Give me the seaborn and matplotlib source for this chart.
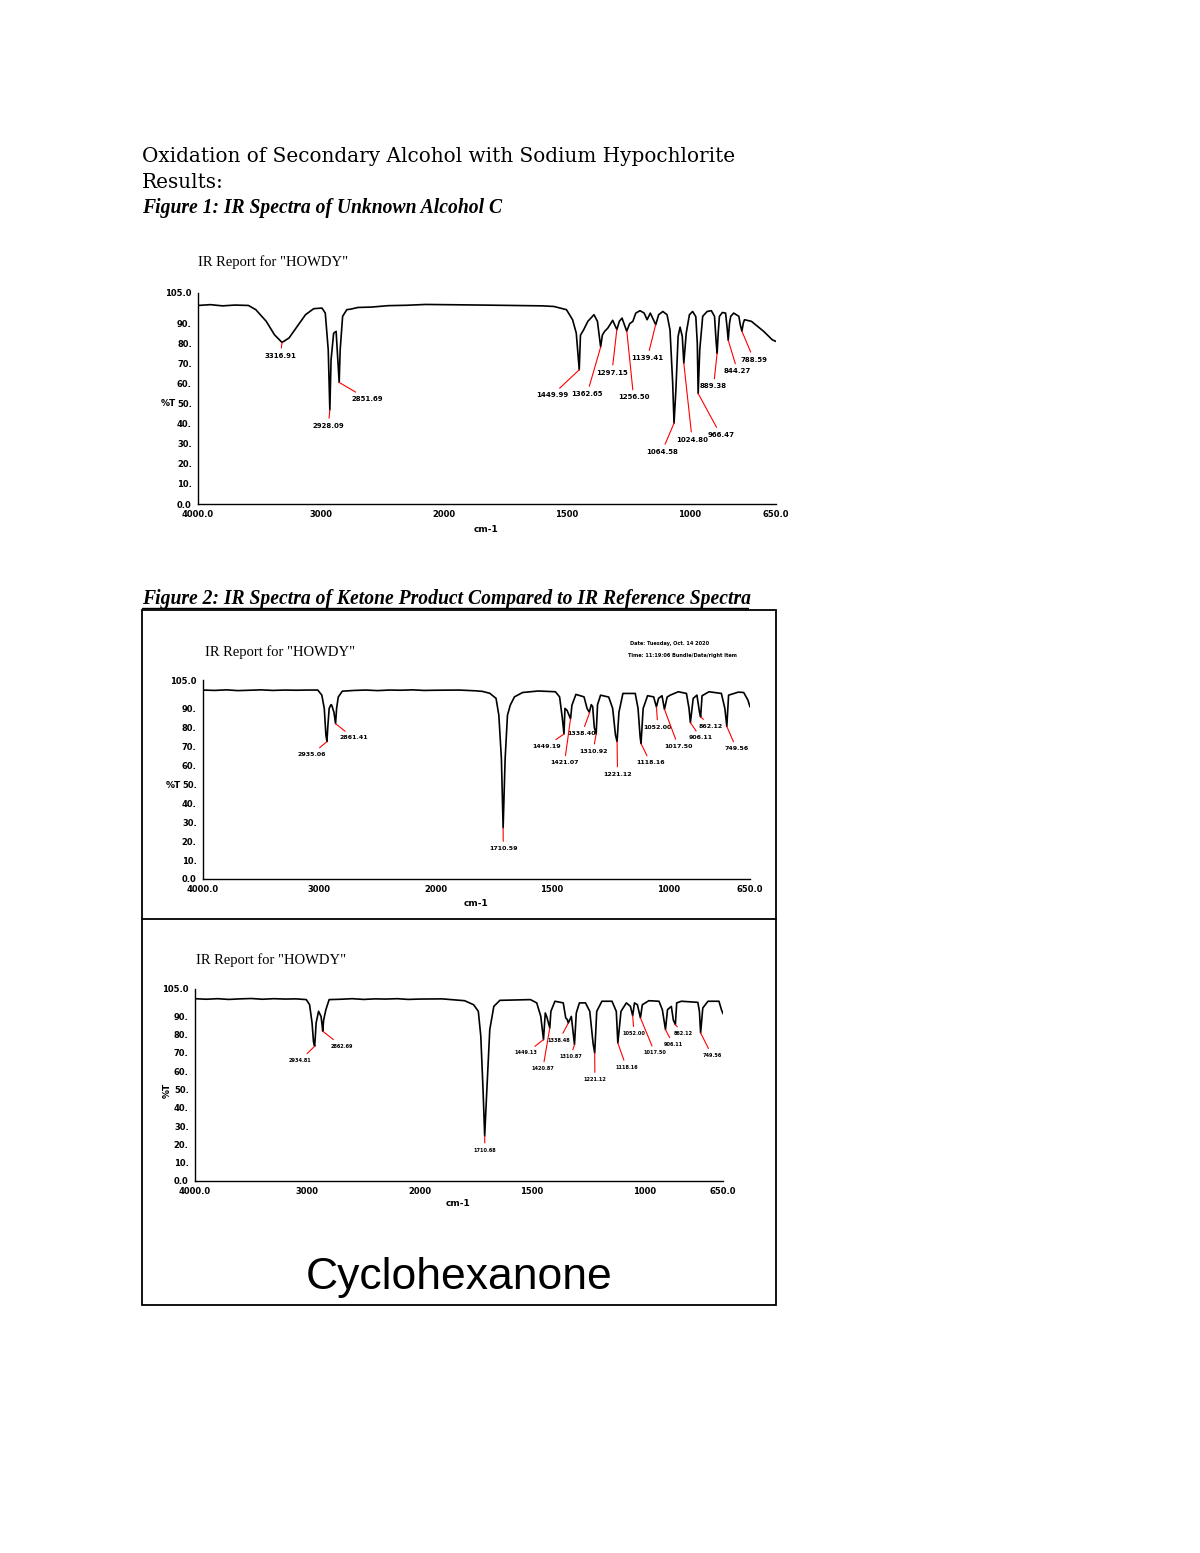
import numpy as np
import pandas as pd
import matplotlib
matplotlib.use("Agg")
import matplotlib.pyplot as plt
import seaborn as sns
from matplotlib.patches import Rectangle
from matplotlib.lines import Line2D

sns.set_theme(style="white")
plt.rcParams["font.family"] = ["DejaVu Sans"]
plt.rcParams["text.color"] = "black"
plt.rcParams["axes.labelcolor"] = "black"
plt.rcParams["xtick.color"] = "black"
plt.rcParams["ytick.color"] = "black"

# ---------------- Figure 1: unknown alcohol C ----------------
alc_wn = [4000, 3900, 3800, 3700, 3590, 3530, 3445, 3378, 3317, 3260, 3193, 3126, 3059, 2992,
          2965, 2941, 2928, 2918, 2897, 2877, 2852, 2844, 2824, 2790, 2756, 2700, 2588, 2454,
          2300, 2150, 2000, 1850, 1722, 1600, 1553, 1502, 1477, 1462, 1450, 1445, 1432, 1415,
          1390, 1376, 1363, 1356, 1347, 1334, 1314, 1297, 1287, 1276, 1257, 1245, 1232, 1220,
          1203, 1186, 1174, 1161, 1139, 1127, 1110, 1093, 1081, 1070, 1064.6, 1057, 1048, 1040,
          1031, 1024.8, 1015, 1002, 989, 976, 970, 966.5, 960, 948, 930, 913, 900, 893, 889.4,
          885, 880, 868, 855, 849, 844.3, 839, 834, 822, 801, 795, 788.6, 783, 778, 750, 700,
          665, 650]
alc_T = [98.8, 99.2, 98.6, 99.0, 98.8, 96.7, 90.9, 84.2, 80.4, 82.6, 88.4, 94.2, 97.2, 97.5,
         95.0, 76.7, 46.8, 71.8, 85.0, 85.9, 60.5, 76.7, 93.4, 96.7, 97.0, 97.8, 98.0, 98.7,
         98.9, 99.3, 99.2, 99.0, 98.8, 98.6, 98.3, 96.7, 91.7, 85.0, 66.8, 84.0, 86.7, 90.9,
         94.2, 90.9, 78.2, 84.0, 85.9, 87.5, 91.4, 86.8, 90.9, 92.5, 86.0, 89.7, 90.9, 95.0,
         96.2, 95.0, 91.7, 95.0, 89.2, 94.2, 95.8, 94.2, 86.7, 60.0, 40.2, 56.8, 83.4, 88.0,
         83.4, 70.1, 85.0, 94.2, 95.8, 93.2, 80.0, 55.0, 76.7, 93.4, 95.8, 96.2, 93.4, 80.0, 75.0,
         85.0, 93.4, 95.3, 95.0, 88.0, 81.5, 90.0, 93.4, 95.0, 93.4, 89.0, 86.0, 90.0, 91.7, 90.9,
         85.9, 81.7, 80.9]
alc_peak_labels = ["3316.91", "2928.09", "2851.69", "1449.99", "1362.65", "1297.15", "1256.50",
                   "1139.41", "1064.58", "1024.80", "966.47", "889.38", "844.27", "788.59"]
alc_peak_wn = [3316.91, 2928.09, 2851.69, 1449.99, 1362.65, 1297.15, 1256.50,
               1139.41, 1064.58, 1024.80, 966.47, 889.38, 844.27, 788.59]
alc_peak_T = [80.4, 46.8, 60.5, 66.8, 78.2, 86.8, 86.0, 89.2, 40.2, 70.1, 55.0, 75.0, 81.5, 86.0]
# label placement (wavenumber, %T)
alc_label_pos = [(3330, 73.8), (2940, 38.9), (2622, 52.2), (1561, 54.0), (1418, 54.8),
                 (1317, 65.4), (1229, 53.0), (1173, 72.6), (1114, 26.0), (991, 32.0),
                 (875, 34.4), (904, 58.5), (806, 66.0), (740, 71.8)]

# ---------------- Figure 2 (top): ketone product ----------------
prod_wn = [4000, 3900, 3800, 3700, 3600, 3500, 3400, 3300, 3200, 3100, 3014, 2979, 2958, 2944,
           2935, 2928, 2916, 2900, 2894, 2875, 2861, 2852, 2838, 2803, 2700, 2600, 2500, 2400,
           2300, 2200, 2100, 2000, 1900, 1830, 1800, 1768, 1741, 1729, 1718, 1710.6, 1702, 1692,
           1680, 1662, 1627, 1560, 1486, 1468, 1456, 1449.2, 1445, 1436, 1421, 1415, 1398, 1363,
           1350, 1340.4, 1332, 1326, 1319, 1310.9, 1305, 1292, 1257, 1240, 1228, 1221.1, 1213,
           1196, 1143, 1131, 1122, 1118.2, 1109, 1090, 1064, 1052, 1043, 1028, 1017.5, 1006, 993,
           958, 923, 912, 906.1, 894, 878, 867, 862.1, 856, 826, 773, 758, 749.6, 742, 700, 677,
           659, 650]
prod_T = [99.7, 99.5, 99.8, 99.4, 99.6, 99.8, 99.5, 99.7, 99.6, 99.7, 99.7, 97.0, 90.0, 76.0,
          72.5, 80.0, 90.0, 92.0, 91.7, 88.0, 82.0, 90.0, 96.0, 99.1, 99.5, 99.7, 99.4, 99.7,
          99.6, 99.8, 99.5, 99.6, 99.7, 99.3, 99.0, 98.0, 95.3, 86.4, 63.4, 27.0, 63.4, 86.4,
          91.7, 96.1, 98.4, 99.2, 98.8, 96.1, 84.6, 76.5, 90.0, 89.0, 84.5, 91.7, 97.4, 96.1,
          90.0, 88.0, 92.0, 91.0, 80.0, 76.5, 92.0, 97.0, 96.0, 90.0, 76.0, 72.5, 88.0,
          97.9, 97.9, 90.0, 75.0, 71.5, 90.0, 96.7, 96.1, 90.8, 95.3, 96.7, 89.5, 96.0, 97.0,
          98.8, 97.9, 90.0, 82.5, 95.3, 97.0, 88.0, 85.5, 96.7, 98.8, 97.9, 90.0, 80.5, 97.0, 98.6, 98.4,
          94.4, 90.8]
prod_peak_labels = ["2935.06", "2861.41", "1710.59", "1449.19", "1421.07", "1338.40", "1310.92",
                    "1221.12", "1118.16", "1052.00", "1017.50", "906.11", "862.12", "749.56"]
prod_peak_wn = [2935.06, 2861.41, 1710.59, 1449.19, 1421.07, 1338.40, 1310.92,
                1221.12, 1118.16, 1052.00, 1017.50, 906.11, 862.12, 749.56]
prod_peak_T = [72.5, 82.0, 27.0, 76.5, 84.5, 88.0, 76.5, 72.5, 71.5, 90.8, 89.5, 82.5, 85.5, 80.5]
prod_label_pos = [(3067, 65.7), (2708, 74.4), (1710, 16.1), (1525, 70.1), (1447, 61.3),
                  (1372, 76.7), (1324, 67.5), (1219, 55.4), (1078, 61.3), (1046, 80.2),
                  (958, 70.0), (861, 74.4), (817, 80.7), (708, 68.7)]

# ---------------- Figure 2 (bottom): cyclohexanone reference ----------------
ref_wn = [4000, 3900, 3800, 3700, 3600, 3500, 3400, 3300, 3200, 3100, 3009, 2980, 2958, 2945,
          2935, 2928, 2922, 2900, 2878, 2870, 2863, 2855, 2835, 2806, 2700, 2600, 2500, 2400,
          2300, 2200, 2100, 2000, 1900, 1840, 1800, 1760, 1739, 1728, 1718, 1710.7, 1701, 1688,
          1670, 1643, 1507, 1479, 1461, 1449, 1441, 1434, 1421, 1416, 1398, 1361, 1350, 1343,
          1338.5, 1325, 1311, 1303, 1289, 1262, 1243, 1228, 1221, 1212, 1189, 1144, 1125, 1118,
          1104, 1080, 1062, 1052, 1044, 1031, 1017.5, 1009, 980, 935, 920, 906, 897, 880, 871,
          862, 856, 835, 762, 755, 749.6, 740, 717, 668, 657, 650]
ref_T = [99.7, 99.4, 99.7, 99.3, 99.6, 99.8, 99.4, 99.7, 99.5, 99.6, 99.2, 96.4, 86.4, 76.0,
         73.7, 80.0, 86.4, 92.8, 90.0, 86.0, 81.9, 88.0, 93.7, 99.2, 99.4, 99.7, 99.3, 99.6,
         99.5, 99.7, 99.3, 99.5, 99.6, 99.0, 98.6, 96.4, 92.8, 79.2, 50.0, 24.6, 50.0, 82.8,
         95.5, 98.8, 99.2, 97.4, 90.0, 77.3, 91.9, 89.7, 83.7, 92.8, 98.3, 97.4, 89.2, 88.3,
         86.4, 90.0, 74.6, 91.9, 97.4, 97.4, 92.8, 75.0, 70.0, 92.8, 98.3, 98.3, 92.8, 75.5,
         92.8, 97.4, 95.5, 90.4, 97.4, 96.4, 89.2, 96.4, 98.6, 98.3, 93.7, 82.8, 93.7, 95.5, 88.0,
         85.5, 97.4, 98.3, 97.7, 92.8, 81.0, 94.6, 98.3, 98.3, 93.7, 91.5]
ref_peak_labels = ["2934.81", "2862.69", "1710.68", "1449.13", "1420.87", "1338.48", "1310.87",
                   "1221.12", "1118.16", "1052.00", "1017.50", "906.11", "862.12", "749.56"]
ref_peak_wn = [2934.81, 2862.69, 1710.68, 1449.13, 1420.87, 1338.48, 1310.87,
               1221.12, 1118.16, 1052.00, 1017.50, 906.11, 862.12, 749.56]
ref_peak_T = [73.7, 81.9, 24.6, 77.3, 83.7, 86.4, 74.6, 70.0, 75.5, 90.4, 89.2, 82.8, 85.5, 81.0]
ref_label_pos = [(3064, 66.0), (2693, 73.7), (1710, 16.9), (1525, 70.0), (1452, 61.3),
                 (1379, 77.0), (1329, 67.9), (1220, 55.5), (1080, 62.2), (1046, 80.6),
                 (953, 70.0), (871, 74.6), (826, 80.6), (699, 68.6)]

x_ticks = [4000, 3000, 2000, 1500, 1000, 650]
x_tick_labels = ["4000.0", "3000", "2000", "1500", "1000", "650.0"]
y_ticks = [0, 10, 20, 30, 40, 50, 60, 70, 80, 90, 105]
y_tick_labels = ["0.0", "10.", "20.", "30.", "40.", "50.", "60.", "70.", "80.", "90.", "105.0"]


def fwd(x):
    x = np.asarray(x, dtype=float)
    return np.where(x >= 2000, x / 1000.0, 2.0 + (x - 2000.0) / 500.0)


def inv(u):
    u = np.asarray(u, dtype=float)
    return np.where(u >= 2, u * 1000.0, 2000.0 + (u - 2.0) * 500.0)


W, H = 1200, 1553
fig = plt.figure(figsize=(12, 15.53), dpi=100)
fig.patch.set_facecolor("white")


def px_axes(l, r, t, b):
    return fig.add_axes([l / W, 1 - b / H, (r - l) / W, (b - t) / H])


def draw_spectrum(ax, wn, T, peak_wn, peak_T, labels, label_pos, lab_fs, tick_fs):
    df = pd.DataFrame({"wn": wn, "T": T})
    sns.lineplot(data=df, x="wn", y="T", ax=ax, color="black", lw=1.2,
                 sort=False, estimator=None)
    ax.set_xscale("function", functions=(fwd, inv))
    ax.set_xlim(4000, 650)
    ax.set_ylim(0, 105)
    ax.set_xticks(x_ticks)
    ax.set_xticklabels(x_tick_labels)
    ax.set_yticks(y_ticks)
    ax.set_yticklabels(y_tick_labels)
    ax.minorticks_off()
    ax.set_xlabel("")
    ax.set_ylabel("")
    for s in ["top", "right"]:
        ax.spines[s].set_visible(False)
    for s in ["left", "bottom"]:
        ax.spines[s].set_color("black")
        ax.spines[s].set_linewidth(1.0)
    ax.tick_params(axis="both", direction="out", length=3, width=0.8, colors="black",
                   labelsize=tick_fs, pad=1.5)
    for lab in ax.get_xticklabels() + ax.get_yticklabels():
        lab.set_fontweight("bold")
        lab.set_color("black")
    ax.set_facecolor("none")
    for w, t, lab, (lx, ly) in zip(peak_wn, peak_T, labels, label_pos):
        ax.annotate(lab, xy=(w, t), xytext=(lx, ly), textcoords="data",
                    ha="center", va="center", fontsize=lab_fs, fontweight="bold",
                    color="black",
                    arrowprops=dict(arrowstyle="-", color="red", lw=0.8,
                                    shrinkA=1, shrinkB=0))


# ---------- page text ----------
serif = ["DejaVu Serif"]
fig.text(142 / W, 1 - 157 / H, "Oxidation of Secondary Alcohol with Sodium Hypochlorite",
         family=serif, fontsize=14.4, ha="left", va="center", color="black")
fig.text(142 / W, 1 - 183 / H, "Results:", family=serif, fontsize=14.4, ha="left", va="center",
         color="black")
fig.text(142 / W, 1 - 208 / H, "Figure 1: IR Spectra of Unknown Alcohol C",
         family=["Liberation Serif"], fontsize=14.1, fontweight="bold", fontstyle="italic",
         ha="left", va="center", color="black")

# ---------- Figure 1 ----------
ax1 = px_axes(198, 776, 293, 504)
draw_spectrum(ax1, alc_wn, alc_T, alc_peak_wn, alc_peak_T, alc_peak_labels, alc_label_pos, 5, 6)
fig.text(198 / W, 1 - 262 / H, 'IR Report for "HOWDY"', family=["Liberation Serif"],
         fontsize=10.5, ha="left", va="center", color="black")
fig.text(168 / W, 1 - 404 / H, "%T", fontsize=6.5, fontweight="bold", ha="center", va="center")
fig.text(486 / W, 1 - 529 / H, "cm-1", fontsize=6.5, fontweight="bold", ha="center", va="center")

# ---------- Figure 2 caption and frame ----------
fig.text(142 / W, 1 - 599 / H,
         "Figure 2: IR Spectra of Ketone Product Compared to IR Reference Spectra",
         family=["Liberation Serif"], fontsize=14.1, fontweight="bold", fontstyle="italic",
         ha="left", va="center", color="black")
fig.add_artist(Line2D([142 / W, 748 / W], [1 - 607.5 / H, 1 - 607.5 / H], color="black", lw=1.0))
fig.add_artist(Rectangle((142 / W, 1 - 1305 / H), (776 - 142) / W, (1305 - 610) / H,
                         fill=False, edgecolor="black", lw=1.3))
fig.add_artist(Line2D([142 / W, 776 / W], [1 - 918.5 / H, 1 - 918.5 / H], color="black", lw=1.3))

# ---------- Figure 2 top: product ----------
ax2 = px_axes(203, 750, 680, 879)
draw_spectrum(ax2, prod_wn, prod_T, prod_peak_wn, prod_peak_T, prod_peak_labels,
              prod_label_pos, 4.5, 6)
fig.text(205 / W, 1 - 652 / H, 'IR Report for "HOWDY"', family=["Liberation Serif"],
         fontsize=10.5, ha="left", va="center", color="black")
fig.text(630 / W, 1 - 643 / H, "Date: Tuesday, Oct. 14 2020", fontsize=3.6, fontweight="bold",
         ha="left", va="center")
fig.text(628 / W, 1 - 656 / H, "Time: 11:19:06 Bundle/Data/right Item", fontsize=3.6,
         fontweight="bold", ha="left", va="center")
fig.text(173 / W, 1 - 785 / H, "%T", fontsize=6.5, fontweight="bold", ha="center", va="center")
fig.text(476 / W, 1 - 904 / H, "cm-1", fontsize=6.5, fontweight="bold", ha="center", va="center")

# ---------- Figure 2 bottom: cyclohexanone reference ----------
ax3 = px_axes(195, 723, 989, 1181)
draw_spectrum(ax3, ref_wn, ref_T, ref_peak_wn, ref_peak_T, ref_peak_labels,
              ref_label_pos, 3.6, 6)
fig.text(196 / W, 1 - 960 / H, 'IR Report for "HOWDY"', family=["Liberation Serif"],
         fontsize=10.5, ha="left", va="center", color="black")
fig.text(167 / W, 1 - 1090 / H, "%T", fontsize=6.5, fontweight="bold", rotation=90,
         ha="center", va="center")
fig.text(458 / W, 1 - 1204 / H, "cm-1", fontsize=6.5, fontweight="bold", ha="center", va="center")

fig.text(459 / W, 1 - 1277 / H, "Cyclohexanone", family=["Liberation Sans"], fontsize=32,
         ha="center", va="center", color="black")

fig.savefig("out.png", dpi=100, facecolor="white")
